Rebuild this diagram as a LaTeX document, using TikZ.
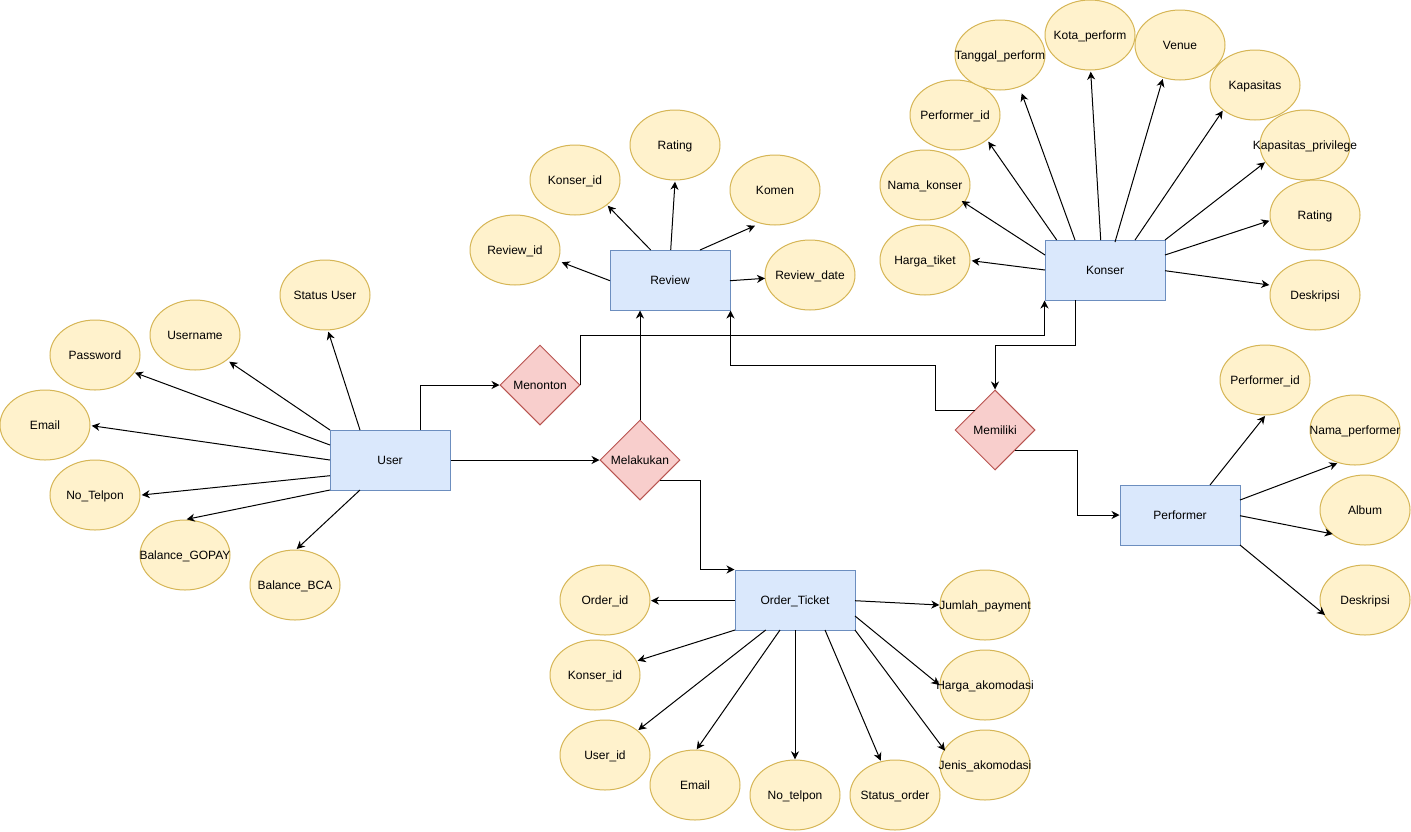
\documentclass[tikz,border=0pt]{standalone}
\usepackage{fontspec}
\setmainfont{Liberation Sans}
\usetikzlibrary{shapes.geometric,arrows.meta,calc}
\definecolor{entfill}{HTML}{DAE8FC}
\definecolor{entdraw}{HTML}{6C8EBF}
\definecolor{relfill}{HTML}{F8CECC}
\definecolor{reldraw}{HTML}{B85450}
\definecolor{attfill}{HTML}{FFF2CC}
\definecolor{attdraw}{HTML}{D6B656}
\newcommand{\zt}[1]{\makebox[0pt][c]{#1}}
\begin{document}
\begin{tikzpicture}[x=1pt,y=-1pt,
  every node/.style={font=\fontsize{12}{14.4}\selectfont, inner sep=0pt, text height=8.6pt, text depth=0pt},
  ent/.style={rectangle, draw=entdraw, fill=entfill, line width=1pt, minimum width=120pt, minimum height=60pt},
  rel/.style={diamond, draw=reldraw, fill=relfill, line width=1pt, minimum width=80pt, minimum height=80pt},
  att/.style={ellipse, draw=attdraw, fill=attfill, line width=1pt, minimum width=90pt, minimum height=70pt},
  al/.style={line width=1pt, draw=black, -{Stealth[length=8pt,width=8pt,inset=2.5pt]}},
  rl/.style={al}]
\fill[white] (0,0) rectangle (1411,831);
\useasboundingbox (0,0) rectangle (1411,831);

% entities
\node[ent] (user) at (390,460) {User};
\node[ent] (review) at (670,280) {Review};
\node[ent] (konser) at (1105,270) {Konser};
\node[ent] (order) at (795,600) {Order\_Ticket};
\node[ent] (perf) at (1180,515) {Performer};

% relationships
\node[rel] (menonton) at (540,385) {\zt{Menonton}};
\node[rel] (melakukan) at (640,460) {\zt{Melakukan}};
\node[rel] (memiliki) at (995,430) {\zt{Memiliki}};

% user attributes
\node[att] (ustatus) at (325,295) {\zt{Status User}};
\node[att] (uname) at (195,335) {\zt{Username}};
\node[att] (upass) at (95,355) {\zt{Password}};
\node[att] (uemail) at (45,425) {\zt{Email}};
\node[att] (utelp) at (95,495) {\zt{No\_Telpon}};
\node[att] (ugopay) at (185,555) {\zt{Balance\_GOPAY}};
\node[att] (ubca) at (295,585) {\zt{Balance\_BCA}};

% review attributes
\node[att] (rrating) at (675,145) {\zt{Rating}};
\node[att] (rkonser) at (575,180) {\zt{Konser\_id}};
\node[att] (rkomen) at (775,190) {\zt{Komen}};
\node[att] (rid) at (515,250) {\zt{Review\_id}};
\node[att] (rdate) at (810,275) {\zt{Review\_date}};

% konser attributes
\node[att] (kperfid) at (955,115) {\zt{Performer\_id}};
\node[att] (ktanggal) at (1000,55) {\zt{Tanggal\_perform}};
\node[att] (kkota) at (1090,35) {\zt{Kota\_perform}};
\node[att] (kvenue) at (1180,45) {\zt{Venue}};
\node[att] (kkap) at (1255,85) {\zt{Kapasitas}};
\node[att] (kkappriv) at (1305,145) {\zt{Kapasitas\_privilege}};
\node[att] (knama) at (925,185) {\zt{Nama\_konser}};
\node[att] (krating) at (1315,215) {\zt{Rating}};
\node[att] (kharga) at (925,260) {\zt{Harga\_tiket}};
\node[att] (kdesk) at (1315,295) {\zt{Deskripsi}};

% performer attributes
\node[att] (pid) at (1265,380) {\zt{Performer\_id}};
\node[att] (pnama) at (1355,430) {\zt{Nama\_performer}};
\node[att] (palbum) at (1365,510) {\zt{Album}};
\node[att] (pdesk) at (1365,600) {\zt{Deskripsi}};

% order attributes
\node[att] (oid) at (605,600) {\zt{Order\_id}};
\node[att] (okonser) at (595,675) {\zt{Konser\_id}};
\node[att] (ouser) at (605,755) {\zt{User\_id}};
\node[att] (oemail) at (695,785) {\zt{Email}};
\node[att] (otelp) at (795,795) {\zt{No\_telpon}};
\node[att] (ostatus) at (895,795) {\zt{Status\_order}};
\node[att] (ojumlah) at (985,605) {\zt{Jumlah\_payment}};
\node[att] (oharga) at (985,685) {\zt{Harga\_akomodasi}};
\node[att] (ojenis) at (985,765) {\zt{Jenis\_akomodasi}};

% user attribute links
\draw[al] ($(user)+(-30,-30)$) -- ($(ustatus)+(3.3,36.7)$);
\draw[al] ($(user)+(-60,-30)$) -- ($(uname)+(34.3,26.7)$);
\draw[al] ($(user)+(-60,-15)$) -- ($(upass)+(40,17.7)$);
\draw[al] ($(user)+(-60,0)$) -- ($(uemail)+(46.7,0.7)$);
\draw[al] ($(user)+(-60,15.7)$) -- ($(utelp)+(46.7,0)$);
\draw[al] ($(user)+(-60,30)$) -- ($(ugopay)+(1.7,-35.7)$);
\draw[al] ($(user)+(-30,30)$) -- ($(ubca)+(1.7,-36)$);

% review attribute links
\draw[al] ($(review)+(0.7,-30)$) -- ($(rrating)+(0,36.7)$);
\draw[al] ($(review)+(-19.3,-30)$) -- ($(rkonser)+(32.7,25.7)$);
\draw[al] ($(review)+(30,-30)$) -- ($(rkomen)+(-20,35.7)$);
\draw[al] ($(review)+(-60,0.7)$) -- ($(rid)+(46.7,12.3)$);
\draw[al] ($(review)+(60,0.7)$) -- ($(rdate)+(-45,3.3)$);

% konser attribute links
\draw[al] ($(konser)+(-60,0)$) -- ($(kharga)+(46.7,0.7)$);
\draw[al] ($(konser)+(-60,-15)$) -- ($(knama)+(36.7,16)$);
\draw[al] ($(konser)+(-48.3,-30)$) -- ($(kperfid)+(33.3,26.7)$);
\draw[al] ($(konser)+(-30,-30)$) -- ($(ktanggal)+(21.7,38.3)$);
\draw[al] ($(konser)+(-4.3,-30)$) -- ($(kkota)+(0.7,36.7)$);
\draw[al] ($(konser)+(10,-28)$) -- ($(kvenue)+(-17.3,34)$);
\draw[al] ($(konser)+(30,-30)$) -- ($(kkap)+(-32.3,25.7)$);
\draw[al] ($(konser)+(60,-30)$) -- ($(kkappriv)+(-40,17.3)$);
\draw[al] ($(konser)+(60,-15)$) -- ($(krating)+(-45.7,5.7)$);
\draw[al] ($(konser)+(60,0.7)$) -- ($(kdesk)+(-45.7,-10)$);

% performer attribute links
\draw[al] ($(perf)+(30,-30)$) -- ($(pid)+(0,36)$);
\draw[al] ($(perf)+(60,-15)$) -- ($(pnama)+(-17.7,33.3)$);
\draw[al] ($(perf)+(60,0.7)$) -- ($(palbum)+(-32.3,24)$);
\draw[al] ($(perf)+(60,30)$) -- ($(pdesk)+(-40,15)$);

% order attribute links
\draw[al] ($(order)+(-60,0.7)$) -- ($(oid)+(46,0.7)$);
\draw[al] ($(order)+(-60,30)$) -- ($(okonser)+(42.7,-14.3)$);
\draw[al] ($(order)+(-29.3,30)$) -- ($(ouser)+(33.3,-25)$);
\draw[al] ($(order)+(-15,30)$) -- ($(oemail)+(1.7,-35.7)$);
\draw[al] ($(order)+(0,30)$) -- ($(otelp)+(0,-35.7)$);
\draw[al] ($(order)+(30,30)$) -- ($(ostatus)+(-14.3,-34.3)$);
\draw[al] ($(order)+(60,0.7)$) -- ($(ojumlah)+(-45.7,0)$);
\draw[al] ($(order)+(60,16)$) -- ($(oharga)+(-45.7,0)$);
\draw[al] ($(order)+(60,30)$) -- ($(ojenis)+(-40,-14.3)$);

% relationship links
\draw[rl] ($(user)+(30,-30)$) |- (menonton.west);
\draw[rl] (menonton.east) -- ++(0,-49.5) -| (konser.south west);
\draw[rl] (user.east) -- (melakukan.west);
\draw[rl] (melakukan.north) -- (melakukan.north |- review.south);
\draw[rl] ($(melakukan)+(20,20)$) -- ++(40.7,0) |- (order.north west);
\draw[rl] ($(konser)+(-29.3,30)$) -- ++(0,45.7) -| (memiliki.north);
\draw[rl] ($(memiliki)+(-20,-20)$) -- ++(-39.3,0) -- ++(0,-44.3) -| (review.south east);
\draw[rl] ($(memiliki)+(20,20)$) -- ++(62.7,0) |- (perf.west);
\end{tikzpicture}
\end{document}
